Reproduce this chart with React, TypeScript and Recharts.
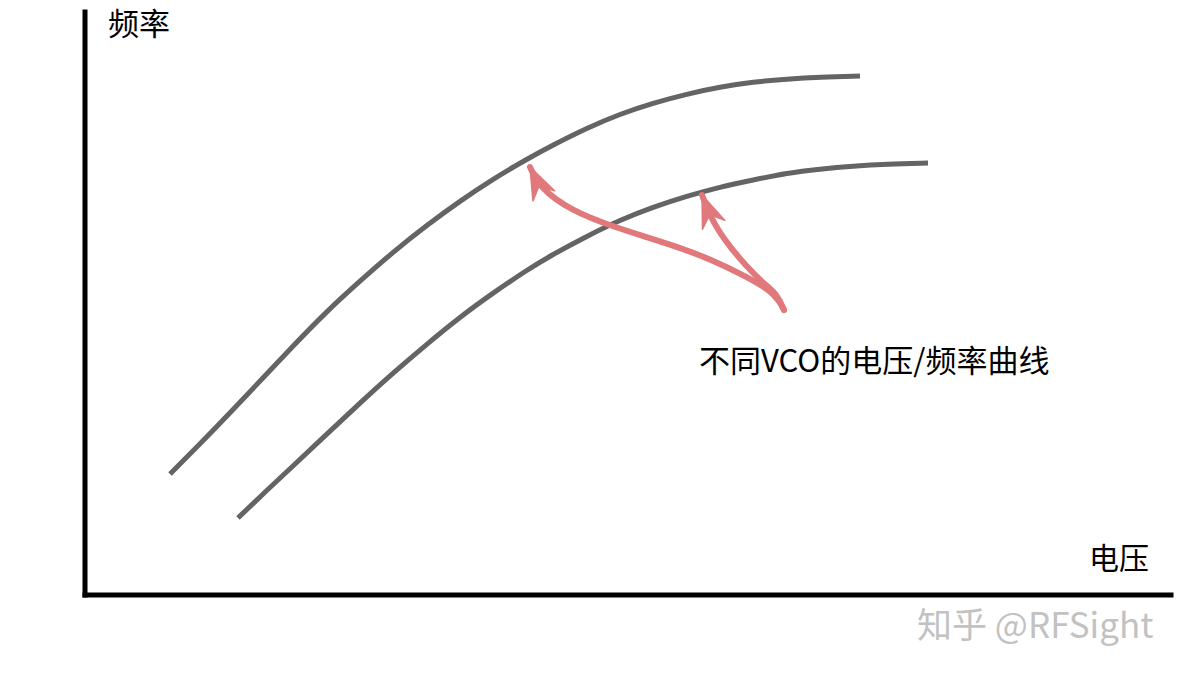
import React from 'react';
import { LineChart, Line, XAxis, YAxis } from 'recharts';

// voltage / frequency in plot units (1 unit = 1px of the plot area)
const VOLT_A = [85, 115, 145, 175, 208, 242, 275, 308, 342, 375, 408, 442, 468, 502, 535, 568, 602, 635, 668, 702, 735, 775];
const FREQ_A = [121, 151, 182, 214, 249, 284, 314, 343, 370, 394, 416, 436, 450, 467, 481, 492, 501, 508, 513, 516, 518, 519];
const VOLT_B = [153, 180, 208, 242, 275, 308, 342, 375, 408, 442, 465, 502, 535, 568, 602, 635, 668, 702, 735, 768, 802, 843];
const FREQ_B = [77, 103, 129, 161, 192, 222, 251, 278, 302, 325, 339, 359, 375, 388, 399, 408, 415, 422, 426, 429, 431, 432];

// annotation arrows, tip first
const ARROW1_V = [445, 455, 485, 528, 585, 628, 662, 685, 695, 699];
const ARROW1_F = [428, 407, 385, 368, 351, 335, 318, 305, 293, 285];
const ARROW2_V = [617, 628, 645, 662, 678, 692, 699];
const ARROW2_F = [400, 372, 348, 328, 312, 301, 285];

const X_DOMAIN = [0, 1086];
const Y_DOMAIN = [0, 583];

const toPoints = (v: number[], f: number[]) => v.map((x, i) => ({ v: x, f: f[i] }));

const seriesA = toPoints(VOLT_A, FREQ_A);
const seriesB = toPoints(VOLT_B, FREQ_B);
const arrow1 = toPoints(ARROW1_V, ARROW1_F);
const arrow2 = toPoints(ARROW2_V, ARROW2_F);

const CURVE = '#646464';
const ARROW = '#e0787c';
const CJK = '"Noto Sans CJK SC", "Noto Sans", sans-serif';

const makeArrowDot = (pts: { v: number; f: number }[]) => (props: any) => {
  const { cx, cy, index } = props;
  if (index !== 0 || cx == null || cy == null) return <g key={`d-${index}`} />;
  const angle = (Math.atan2(pts[1].f - pts[0].f, pts[0].v - pts[1].v) * 180) / Math.PI;
  return (
    <path
      key={`d-${index}`}
      d="M0,0 L-32,-12 L-21,0 L-32,12 Z"
      fill={ARROW}
      stroke={ARROW}
      strokeWidth={1.5}
      strokeLinejoin="round"
      transform={`translate(${cx},${cy}) rotate(${angle})`}
    />
  );
};

const App: React.FC = () => {
  return (
    <div style={{ position: 'fixed', left: 0, top: 0, width: 1187, height: 678, background: '#fff' }}>
      <LineChart width={1187} height={678} margin={{ top: 12, right: 16, bottom: 53, left: 25 }}>
        <XAxis
          type="number"
          dataKey="v"
          domain={X_DOMAIN}
          allowDataOverflow
          height={30}
          tick={false}
          tickLine={false}
          axisLine={{ stroke: '#000', strokeWidth: 5, strokeLinecap: 'square' }}
        />
        <YAxis
          type="number"
          dataKey="f"
          domain={Y_DOMAIN}
          allowDataOverflow
          width={60}
          tick={false}
          tickLine={false}
          axisLine={{ stroke: '#000', strokeWidth: 5, strokeLinecap: 'square' }}
        />
        <Line data={seriesA} dataKey="f" type="basis" stroke={CURVE} strokeWidth={5} dot={false} activeDot={false} isAnimationActive={false} />
        <Line data={seriesB} dataKey="f" type="basis" stroke={CURVE} strokeWidth={5} dot={false} activeDot={false} isAnimationActive={false} />
        <Line data={arrow1} dataKey="f" type="basis" stroke={ARROW} strokeWidth={6} strokeLinecap="round" dot={makeArrowDot(arrow1)} activeDot={false} isAnimationActive={false} />
        <Line data={arrow2} dataKey="f" type="basis" stroke={ARROW} strokeWidth={6} strokeLinecap="round" dot={makeArrowDot(arrow2)} activeDot={false} isAnimationActive={false} />
      </LineChart>
      <svg width={1187} height={678} style={{ position: 'absolute', left: 0, top: 0, pointerEvents: 'none' }}>
        <text x={108} y={35} fontSize={31} fontFamily={CJK} fill="#000">频率</text>
        <text x={1089} y={569} fontSize={30} fontFamily={CJK} fill="#000">电压</text>
        <text x={699} y={372} fontSize={31} fontFamily={CJK} fill="#000">不同VCO的电压/频率曲线</text>
        <text x={917} y={638} fontSize={35} fontFamily={CJK} fill="#c2c2c2">知乎 @RFSight</text>
      </svg>
    </div>
  );
};

export default App;
